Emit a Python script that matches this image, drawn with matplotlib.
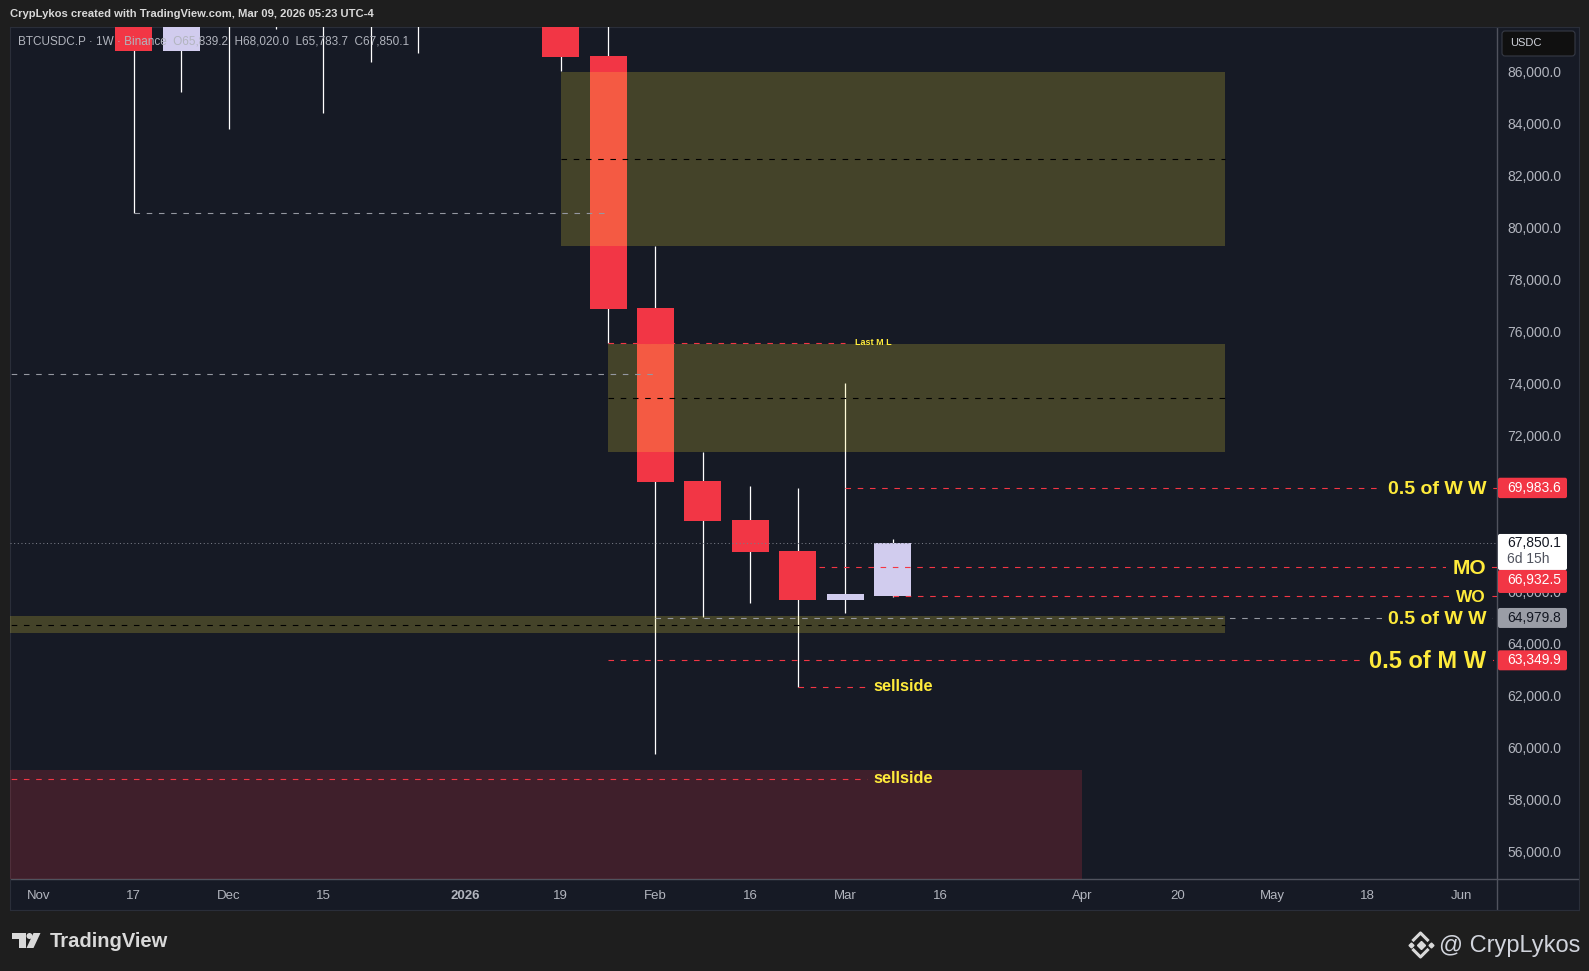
import matplotlib
matplotlib.use('Agg')
import matplotlib.pyplot as plt
from matplotlib.patches import Rectangle, FancyBboxPatch, Polygon, Circle
from matplotlib.lines import Line2D
from matplotlib.transforms import IdentityTransform, blended_transform_factory

plt.rcParams['font.family'] = ['Liberation Sans', 'DejaVu Sans']

BG = '#161a25'
OUTER = '#1e1e1e'
RED = '#f23645'
UP = '#d1ccee'
ZONE = '#ffeb3b'
TXT = '#b2b5be'
YEL = '#ffeb3b'
GREY = '#9598a1'

# weekly BTCUSDC.P candles, x = weeks counted from Mon 3 Nov 2025
weeks = list(range(19))
opens = [110500, 104700, 94200, 86800, 90400, 89300, 88400, 88600, 88000, 91500,
         90500, 93600, 86600, 76900, 70250, 68740, 67550, 65670, 65839.2]
highs = [110800, 107000, 96000, 91900, 94000, 94600, 90600, 90000, 89500, 94800,
         97900, 95500, 90500, 79290, 71360, 70050, 69980, 74020, 68020.0]
lows = [98900, 93900, 80560, 85230, 83810, 87630, 84420, 86370, 86730, 89300,
        90000, 86040, 75570, 59740, 65020, 65560, 62340, 65180, 65783.7]
closes = [104700, 94200, 86800, 90400, 89300, 88400, 88600, 88000, 91500, 90500,
          93600, 86580, 76880, 70210, 68710, 67510, 65670, 65900, 67850.1]

tick_weeks = [0, 2, 4, 6, 9, 11, 13, 15, 17, 19, 22, 24, 26, 28, 30]
tick_labels = ['Nov', '17', 'Dec', '15', '2026', '19', 'Feb', '16', 'Mar', '16',
               'Apr', '20', 'May', '18', 'Jun']
price_ticks = list(range(56000, 86001, 2000))

# supply / demand boxes (week from, week to, low, high)
zone_x0 = [11, 12, -1]
zone_x1 = [25, 25, 25]
zone_lo = [79290, 71360, 64410]
zone_hi = [86000, 75520, 65040]
sell_zone = (-1, 22, 59120)

# levels that run to the price scale
level_prices = [69983.6, 66932.5, 65839.2, 64979.8, 63349.9]
level_names = ['0.5 of W W', 'MO', 'WO', '0.5 of W W', '0.5 of M W']
level_start = [17, 16.45, 18, 13, 12]
level_kind = ['red', 'red', 'red', 'grey', 'red']
level_size = [14, 15, 12.4, 14, 17]

# short lines
grey_lines = [(80560, 2, 12), (74350, -1, 13)]
last_ml = (75570, 12, 17)
sellside = [(62340, 16, 17.45), (58800, -1, 17.45)]
current = 67850.1

fig = plt.figure(figsize=(15.89, 9.71), dpi=100, facecolor=OUTER)
W, H = 1589, 971


def box(l, t, r, b):
    return [l / W, 1 - b / H, (r - l) / W, (b - t) / H]


frame = fig.add_axes(box(10, 27, 1579, 910), zorder=0)
frame.set_facecolor(BG)
frame.set_xticks([])
frame.set_yticks([])
for s in frame.spines.values():
    s.set_color('#2a2e39')
frame.set_xlim(10, 1579)
frame.set_ylim(910, 27)
frame.axvline(1497, color='#50535e', lw=1)
frame.axhline(879, color='#50535e', lw=1)

ax = fig.add_axes(box(10, 27, 1497, 879), zorder=1)
ax.set_facecolor('none')
ax.set_xlim(-0.607, 30.74)
ax.set_ylim(54935, 87720)
for s in ax.spines.values():
    s.set_visible(False)

# candles
body_lo = [min(o, c) for o, c in zip(opens, closes)]
body_h = [abs(c - o) for o, c in zip(opens, closes)]
colors = [UP if c >= o else RED for o, c in zip(opens, closes)]
ax.vlines(weeks, lows, highs, color='white', lw=0.9, zorder=2)
ax.bar(weeks, body_h, bottom=body_lo, width=0.78, color=colors, lw=0, zorder=3)

dash = (0, (5, 6))
for x0, x1, lo, hi in zip(zone_x0, zone_x1, zone_lo, zone_hi):
    ax.add_patch(Rectangle((x0, lo), x1 - x0, hi - lo, fc=ZONE, alpha=0.2, lw=0, zorder=4))
    ax.hlines((lo + hi) / 2, x0, x1, color='black', lw=0.8, ls=dash, zorder=5)
ax.add_patch(Rectangle((sell_zone[0], 50000), sell_zone[1] - sell_zone[0], sell_zone[2] - 50000,
                       fc=RED, alpha=0.19, lw=0, zorder=4))

for p, x0, x1 in grey_lines:
    ax.hlines(p, x0, x1, color=GREY, lw=0.8, ls=dash, zorder=5)
ax.hlines(last_ml[0], last_ml[1], last_ml[2], color=RED, lw=0.8, ls=dash, zorder=5)
ax.text(last_ml[2] + 0.2, last_ml[0], 'Last M L', color=YEL, fontsize=6.5,
        fontweight='bold', va='center', zorder=7)
for p, x0, x1 in sellside:
    ax.hlines(p, x0, x1, color=RED, lw=0.8, ls=dash, zorder=5)
    ax.text(17.59, p, 'sellside', color=YEL, fontsize=11.8, fontweight='bold',
            va='center', zorder=7)

ax.axhline(current, color='#787b86', lw=0.75, ls=(0, (1, 2.5)), zorder=5)

btrans = blended_transform_factory(ax.transAxes, ax.transData)
for p, name, x0, kind, fs in zip(level_prices, level_names, level_start, level_kind, level_size):
    ax.hlines(p, x0, 31, color=RED if kind == 'red' else GREY, lw=0.8, ls=dash, zorder=5)
    ax.annotate(name, xy=(1, p), xycoords=btrans, xytext=(-11, -1.5), textcoords='offset pixels',
                ha='right', va='center', color=YEL, fontsize=fs, fontweight='bold',
                bbox=dict(boxstyle='square,pad=0.3', fc=BG, ec='none'), zorder=7)

# axes
ax.yaxis.tick_right()
ax.set_yticks(price_ticks)
ax.set_yticklabels([f'{v:,.1f}' for v in price_ticks])
ax.tick_params(axis='y', length=0, pad=7.2, labelsize=10, labelcolor=TXT)
ax.set_xticks(tick_weeks)
ax.set_xticklabels(tick_labels)
ax.tick_params(axis='x', length=0, pad=8, labelsize=9.5, labelcolor=TXT)
ax.get_xticklabels()[4].set_fontweight('bold')

# price scale tags
T = IdentityTransform()


def ypix(p):
    return ax.transData.transform((0, p))[1]


def tag(yc, h, fc, rows):
    fig.add_artist(FancyBboxPatch((1498, yc - h / 2), 69, h,
                                  boxstyle='round,pad=0,rounding_size=2',
                                  transform=T, fc=fc, ec='none', zorder=5))
    for dy, s, col in rows:
        fig.text(1507 / W, (yc + dy) / H, s, color=col, fontsize=10, va='center', zorder=6)


yc = ypix(current)
tag(yc - 8.6, 36, 'white', [(8.6, f'{current:,.1f}', '#131722'), (-7.4, '6d 15h', '#50535e')])
tag(yc - 26.6 - 11.5, 23, RED, [(1.2, f'{level_prices[1]:,.1f}', 'white')])
tag(ypix(level_prices[0]), 20.4, RED, [(0, f'{level_prices[0]:,.1f}', 'white')])
tag(ypix(level_prices[3]), 20, '#9a9da6', [(0, f'{level_prices[3]:,.1f}', '#131722')])
tag(ypix(level_prices[4]), 20, RED, [(0, f'{level_prices[4]:,.1f}', 'white')])

# USDC button
fig.add_artist(FancyBboxPatch((1502, H - 56), 73, 25, boxstyle='round,pad=0,rounding_size=3',
                              transform=T, fc='#101010', ec='#363a45', lw=0.8, zorder=5))
fig.text(1510 / W, 1 - 43.5 / H, 'USDC', color='#d1d4dc', fontsize=8, va='center', zorder=6)

# header and legend
fig.text(9.5 / W, 1 - 14 / H, 'CrypLykos created with TradingView.com, Mar 09, 2026 05:23 UTC-4',
         color='#d9d9d9', fontsize=8.1, fontweight='bold', va='center')
legend = (f'BTCUSDC.P · 1W · Binance  O{opens[-1]:,.1f}  H{highs[-1]:,.1f}  '
          f'L{lows[-1]:,.1f}  C{closes[-1]:,.1f}')
fig.text(17.7 / W, 1 - 42 / H, legend, color=TXT, fontsize=8.5, va='center', zorder=6)

# footer
logo = '#d9d9d9'
fig.add_artist(Polygon([(12, H - 933), (25.5, H - 933), (25.5, H - 948), (19, H - 948),
                        (19, H - 939), (12, H - 939)], closed=True, transform=T, fc=logo, ec='none'))
fig.add_artist(Circle((29.5, H - 936), 3, transform=T, fc=logo, ec='none'))
fig.add_artist(Polygon([(33.5, H - 933), (40.5, H - 933), (33.5, H - 948), (26.5, H - 948)],
                       closed=True, transform=T, fc=logo, ec='none'))
fig.text(49.5 / W, 1 - 941 / H, 'TradingView', color=logo, fontsize=14.5, fontweight='bold',
         va='center')

bx, by = 1420.5, H - 945
fig.add_artist(Line2D([bx], [by], marker='D', ms=4, color=logo, transform=T))
fig.add_artist(Line2D([bx - 10, bx + 10], [by, by], marker='D', ms=2.5, ls='none', color=logo, transform=T))
fig.add_artist(Line2D([bx - 7, bx, bx + 7], [by + 5, by + 12, by + 5], lw=2.2, color=logo, transform=T))
fig.add_artist(Line2D([bx - 7, bx, bx + 7], [by - 5, by - 12, by - 5], lw=2.2, color=logo, transform=T))
fig.text(1439 / W, 1 - 946 / H, '@ CrypLykos', color='#d1d4dc', fontsize=17, va='center')

fig.savefig('out.png', dpi=100, facecolor=fig.get_facecolor())
